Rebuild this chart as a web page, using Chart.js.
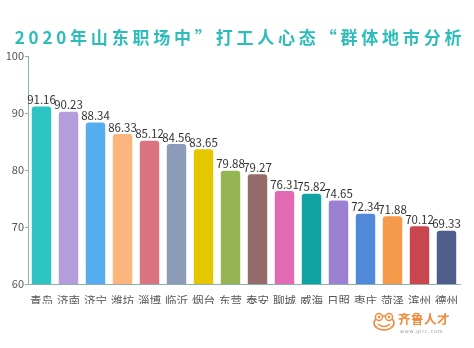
<!DOCTYPE html>
<html>
<head>
<meta charset="utf-8">
<script src="https://cdn.jsdelivr.net/npm/chart.js@4.4.0/dist/chart.umd.min.js"></script>
<style>
  body { margin: 0; background: #fff; }
  #wrap { position: relative; width: 474px; height: 348px; }
  #title {
    position: absolute; top: 27px; left: 3px; width: 474px; text-align: center;
    font-family: "Noto Sans CJK SC", sans-serif; font-weight: bold; font-size: 17px;
    letter-spacing: 3.8px; color: #2dbdb9; line-height: 20px;
  }
  #logo { position: absolute; left: 373px; top: 311px; width: 95px; height: 28px; }
  #logo .name {
    position: absolute; left: 25px; top: 0; font-family: "Noto Sans CJK SC", sans-serif;
    font-weight: bold; font-size: 12.5px; color: #f08a3c; line-height: 16px; letter-spacing: 0.5px;
  }
  #logo .url {
    position: absolute; left: 27px; top: 17px; font-family: "DejaVu Sans", sans-serif;
    font-size: 5px; color: #999; letter-spacing: 0.7px;
  }
</style>
</head>
<body>
<div id="wrap">
  <canvas id="chart" width="474" height="348"></canvas>
  <div id="title">2020年山东职场中”打工人心态“群体地市分析</div>
  <div id="logo">
    <svg width="24" height="20" style="position:absolute;left:0;top:1px">
      <ellipse cx="11" cy="11" rx="10" ry="7" fill="none" stroke="#f08a3c" stroke-width="1.6"/>
      <circle cx="6" cy="5" r="3.5" fill="#fff" stroke="#f08a3c" stroke-width="1.4"/>
      <circle cx="16" cy="5" r="3.5" fill="#fff" stroke="#f08a3c" stroke-width="1.4"/>
      <circle cx="6" cy="5" r="1.3" fill="#f08a3c"/>
      <circle cx="16" cy="5" r="1.3" fill="#f08a3c"/>
      <path d="M5 12 Q11 17 17 12" fill="none" stroke="#f08a3c" stroke-width="1.4"/>
    </svg>
    <div class="name">齐鲁人才</div>
    <div class="url">www.qlrc.com</div>
  </div>
</div>
<script>
// cities and scores
const cities = ['青岛', '济南', '济宁', '潍坊', '淄博', '临沂', '烟台', '东营', '泰安', '聊城', '威海', '日照', '枣庄', '菏泽', '滨州', '德州'];
const scores = [91.16, 90.23, 88.34, 86.33, 85.12, 84.56, 83.65, 79.88, 79.27, 76.31, 75.82, 74.65, 72.34, 71.88, 70.12, 69.33];
const barColors = ['#2ec4c4', '#b39ddb', '#55adef', '#fdb57e', '#d9737d', '#8c9bb7', '#e5c700', '#95b553', '#946c6a',
  '#e06bb2', '#10a3a4', '#9b7fd0', '#5089d8', '#f59a4a', '#c9464e', '#4d5e8a'];
const yTicks = [60, 70, 80, 90, 100];

const font = "'Noto Sans CJK SC', sans-serif";

// value labels above each bar
const valueLabels = {
  id: 'valueLabels',
  afterDatasetsDraw(chart) {
    const ctx = chart.ctx;
    const meta = chart.getDatasetMeta(0);
    ctx.save();
    ctx.font = '11.5px ' + font;
    ctx.fillStyle = '#333';
    ctx.textAlign = 'center';
    ctx.textBaseline = 'bottom';
    meta.data.forEach((bar, i) => {
      ctx.fillText(scores[i].toFixed(2), bar.x, bar.y - 1);
    });
    ctx.restore();
  }
};

new Chart(document.getElementById('chart'), {
  type: 'bar',
  data: {
    labels: cities,
    datasets: [{
      data: scores,
      backgroundColor: barColors,
      borderRadius: { topLeft: 3, topRight: 3 },
      borderSkipped: 'bottom',
      categoryPercentage: 0.72,
      barPercentage: 1
    }]
  },
  options: {
    responsive: false,
    animation: false,
    layout: { padding: { top: 56, right: 14, bottom: 44, left: 0 } },
    plugins: { legend: { display: false }, tooltip: { enabled: false } },
    scales: {
      x: {
        grid: { display: false },
        border: { color: '#8fb0b0', width: 1 },
        ticks: { color: '#555', font: { family: font, size: 11.5 }, padding: 2, maxRotation: 0, autoSkip: false },
        afterFit: s => { s.height = 20; }
      },
      y: {
        min: 60,
        max: 100,
        afterBuildTicks: s => { s.ticks = yTicks.map(v => ({ value: v })); },
        grid: { drawOnChartArea: false, tickLength: 3, color: '#8fb0b0' },
        border: { color: '#8fb0b0', width: 1 },
        ticks: { color: '#555', font: { family: font, size: 11 }, padding: 1 },
        afterFit: s => { s.width = 28; }
      }
    }
  },
  plugins: [valueLabels]
});
</script>
</body>
</html>
